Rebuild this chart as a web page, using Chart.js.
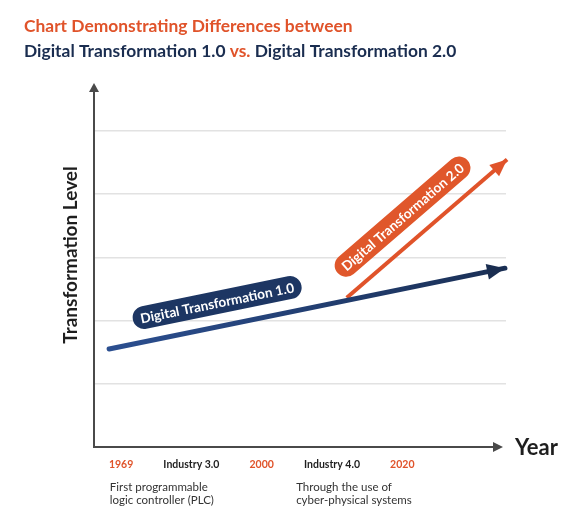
<!DOCTYPE html>
<html><head><meta charset="utf-8">
<script src="https://cdn.jsdelivr.net/npm/chart.js@4.4.0/dist/chart.umd.min.js"></script>
<style>html,body{margin:0;padding:0;background:#fff}#wrap{width:585px;height:528px;position:relative}</style>
</head><body><div id="wrap"><canvas id="c"></canvas></div>
<script>
// ---- data ----
const tickValues = [0, 1, 2, 3, 4];
const tickLabels = ['1969', 'Industry 3.0', '2000', 'Industry 4.0', '2020'];
const tickIsYear = [true, false, true, false, true];
const notes = [['First programmable', 'logic controller (PLC)'], ['Through the use of', 'cyber-physical systems']];
const noteAt = [-0.16, 2.49];
const seriesNames = ['Digital Transformation 1.0', 'Digital Transformation 2.0'];
const dt1X = [-0.17, 5.46];
const dt1Y = [1.55, 2.83];
const dt2X = [3.21, 5.49];
const dt2Y = [2.36, 4.55];
const gridValues = [1, 2, 3, 4, 5];
const titleLine1 = 'Chart Demonstrating Differences between';
const titleLine2 = ['Digital Transformation 1.0 ', 'vs.', ' Digital Transformation 2.0'];
const yTitle = 'Transformation Level';
const xTitle = 'Year';

const ORANGE = '#E0532A';
const NAVY = '#1A2D50';
const FONT = 'Lato, "Noto Sans", sans-serif';

function pts(xs, ys) { return xs.map((x, i) => ({ x: x, y: ys[i] })); }

const overlay = {
  id: 'overlay',
  afterDatasetsDraw(chart) {
    const ctx = chart.ctx, a = chart.chartArea;
    const xs = chart.scales.x;
    ctx.save();
    // axes
    ctx.strokeStyle = '#4a4a4a'; ctx.fillStyle = '#4a4a4a'; ctx.lineWidth = 2;
    ctx.beginPath(); ctx.moveTo(a.left, a.bottom); ctx.lineTo(a.left, a.top + 8); ctx.stroke();
    ctx.beginPath(); ctx.moveTo(a.left, a.top); ctx.lineTo(a.left - 5, a.top + 9); ctx.lineTo(a.left + 5, a.top + 9); ctx.closePath(); ctx.fill();
    const xr = a.right - 3;
    ctx.beginPath(); ctx.moveTo(a.left - 1, a.bottom); ctx.lineTo(xr - 8, a.bottom); ctx.stroke();
    ctx.beginPath(); ctx.moveTo(xr, a.bottom); ctx.lineTo(xr - 10, a.bottom - 5); ctx.lineTo(xr - 10, a.bottom + 5); ctx.closePath(); ctx.fill();

    // arrow heads + pills
    const heads = [{ c: NAVY, L: 18, W: 8 }, { c: ORANGE, L: 17, W: 7.5 }];
    const pills = [{ c: '#1D3663', t: 0.285, d: 24 }, { c: '#E0572B', t: 0.45, d: 25 }];
    chart.data.datasets.forEach((ds, i) => {
      const meta = chart.getDatasetMeta(i);
      const p0 = meta.data[0], p1 = meta.data[meta.data.length - 1];
      const dx = p1.x - p0.x, dy = p1.y - p0.y, len = Math.hypot(dx, dy);
      const ux = dx / len, uy = dy / len;
      const h = heads[i];
      ctx.fillStyle = h.c;
      ctx.beginPath();
      ctx.moveTo(p1.x, p1.y);
      ctx.lineTo(p1.x - ux * h.L + uy * h.W, p1.y - uy * h.L - ux * h.W);
      ctx.lineTo(p1.x - ux * h.L - uy * h.W, p1.y - uy * h.L + ux * h.W);
      ctx.closePath(); ctx.fill();
      // pill
      const pl = pills[i];
      const nx = uy, ny = -ux;
      const cx = p0.x + dx * pl.t + nx * pl.d, cy = p0.y + dy * pl.t + ny * pl.d;
      ctx.save();
      ctx.translate(cx, cy); ctx.rotate(Math.atan2(dy, dx));
      const w = 172, ht = 23;
      ctx.fillStyle = pl.c;
      ctx.beginPath(); ctx.roundRect(-w / 2, -ht / 2, w, ht, ht / 2); ctx.fill();
      ctx.fillStyle = '#fff'; ctx.font = 'bold 13.5px ' + FONT;
      ctx.textAlign = 'center'; ctx.textBaseline = 'middle';
      ctx.fillText(ds.label, 0, 1);
      ctx.restore();
    });

    // titles
    ctx.textAlign = 'left'; ctx.textBaseline = 'middle';
    ctx.font = 'bold 17.4px ' + FONT;
    ctx.fillStyle = ORANGE; ctx.fillText(titleLine1, 24, 26);
    let x = 24;
    titleLine2.forEach((s, i) => {
      ctx.fillStyle = i === 1 ? ORANGE : NAVY;
      ctx.fillText(s, x, 51);
      x += ctx.measureText(s).width;
    });
    // y title
    ctx.save();
    ctx.translate(71, 255); ctx.rotate(-Math.PI / 2);
    ctx.font = 'bold 19px ' + FONT; ctx.fillStyle = '#1e1e1e'; ctx.textAlign = 'center';
    ctx.fillText(yTitle, 0, 0);
    ctx.restore();
    // x title
    ctx.font = 'bold 22px ' + FONT; ctx.fillStyle = '#1e1e1e';
    ctx.fillText(xTitle, 515, a.bottom + 1);
    // notes
    ctx.font = '11.5px ' + FONT; ctx.fillStyle = '#333';
    notes.forEach((lines, i) => {
      const nxp = xs.getPixelForValue(noteAt[i]);
      lines.forEach((ln, j) => ctx.fillText(ln, nxp, a.bottom + 40 + j * 13));
    });
    ctx.restore();
  }
};

new Chart(document.getElementById('c'), {
  type: 'line',
  data: {
    datasets: [
      {
        label: seriesNames[0], data: pts(dt1X, dt1Y), borderWidth: 5, pointRadius: 0,
        borderCapStyle: 'round', clip: false,
        borderColor: (c) => {
          const a = c.chart.chartArea; if (!a) return NAVY;
          const g = c.chart.ctx.createLinearGradient(a.left, 0, a.right, 0);
          g.addColorStop(0, '#2C5092'); g.addColorStop(1, '#1A2F55'); return g;
        }
      },
      {
        label: seriesNames[1], data: pts(dt2X, dt2Y), borderWidth: 4, pointRadius: 0,
        borderColor: ORANGE, clip: false
      }
    ]
  },
  options: {
    responsive: true, maintainAspectRatio: false, animation: false,
    layout: { padding: { left: 94, top: 83, right: 79, bottom: 0 } },
    plugins: { legend: { display: false }, tooltip: { enabled: false } },
    scales: {
      x: {
        type: 'linear', min: -0.385, max: 5.475,
        grid: { display: false, drawTicks: false }, border: { display: false },
        afterBuildTicks: (s) => { s.ticks = tickValues.map(v => ({ value: v })); },
        afterFit: (s) => { s.height = 81; },
        ticks: {
          autoSkip: false, maxRotation: 0, padding: 11,
          font: { family: FONT, weight: 'bold', size: 10.5 },
          color: (c) => tickIsYear[c.index] ? ORANGE : '#1e1e1e',
          callback: (v, i) => tickLabels[i]
        }
      },
      y: {
        min: 0, max: 5.76,
        grid: { color: '#e2e2e2', lineWidth: 1.5, drawTicks: false }, border: { display: false },
        afterBuildTicks: (s) => { s.ticks = gridValues.map(v => ({ value: v })); },
        afterFit: (s) => { s.width = 0; },
        ticks: { display: false }
      }
    }
  },
  plugins: [overlay]
});
</script>
</body></html>
